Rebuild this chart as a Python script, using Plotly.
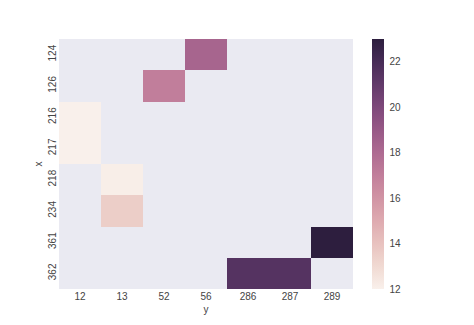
import numpy as np
import plotly.graph_objects as go

# Row (x) and column (y) categories of the pivot table
rows = ["124", "126", "216", "217", "218", "234", "361", "362"]
cols = ["12", "13", "52", "56", "286", "287", "289"]

# Filled cells: (row, col, value); all other cells are missing
cell_rows = ["124", "126", "216", "217", "218", "234", "361", "362", "362"]
cell_cols = ["56", "52", "12", "12", "13", "13", "289", "286", "287"]
cell_vals = [18.3, 17.0, 12.0, 12.0, 12.1, 13.5, 23.0, 21.5, 21.5]

z = [[None for _ in cols] for _ in rows]
for r, c, v in zip(cell_rows, cell_cols, cell_vals):
    z[rows.index(r)][cols.index(c)] = v


def cubehelix_scale(n=32, start=0.0, rot=0.4, gamma=1.0, hue=0.8, light=0.95, dark=0.15):
    """Sequential cubehelix colorscale (light -> dark)."""
    def channel(x, p0, p1):
        xg = x ** gamma
        a = hue * xg * (1 - xg) / 2
        phi = 2 * np.pi * (start / 3 + rot * x)
        return np.clip(xg + a * (p0 * np.cos(phi) + p1 * np.sin(phi)), 0, 1)

    xs = np.linspace(light, dark, n)
    r = channel(xs, -0.14861, 1.78277)
    g = channel(xs, -0.29227, -0.90649)
    b = channel(xs, 1.97294, 0.0)
    scale = []
    for i in range(n):
        scale.append([i / (n - 1), "rgb(%d,%d,%d)" % (round(r[i] * 255), round(g[i] * 255), round(b[i] * 255))])
    return scale


font = dict(family="Liberation Sans, Arial, sans-serif", size=10, color="#444444")

fig = go.Figure(
    go.Heatmap(
        z=z,
        x=cols,
        y=rows,
        colorscale=cubehelix_scale(),
        zmin=12,
        zmax=23,
        xgap=0,
        ygap=0,
        hoverongaps=False,
        colorbar=dict(
            x=1.0646,
            xanchor="left",
            xpad=0,
            y=0.5,
            yanchor="middle",
            len=1,
            lenmode="fraction",
            ypad=0,
            thickness=12,
            outlinewidth=0,
            tickvals=[12, 14, 16, 18, 20, 22],
            ticks="outside",
            ticklen=4,
            tickcolor="rgba(0,0,0,0)",
            tickfont=font,
        ),
    )
)

fig.update_layout(
    width=474,
    height=325,
    margin=dict(l=59, r=121, t=39, b=36),
    paper_bgcolor="white",
    plot_bgcolor="#EAEAF2",
    font=font,
    xaxis=dict(
        type="category",
        categoryorder="array",
        categoryarray=cols,
        showgrid=False,
        zeroline=False,
        ticks="",
        tickfont=font,
        title=dict(text="y", font=font, standoff=4),
    ),
    yaxis=dict(
        type="category",
        categoryorder="array",
        categoryarray=rows,
        autorange="reversed",
        showgrid=False,
        zeroline=False,
        ticks="",
        tickangle=-90,
        tickfont=font,
        title=dict(text="x", font=font, standoff=2),
    ),
)

fig.write_html("out.html")
